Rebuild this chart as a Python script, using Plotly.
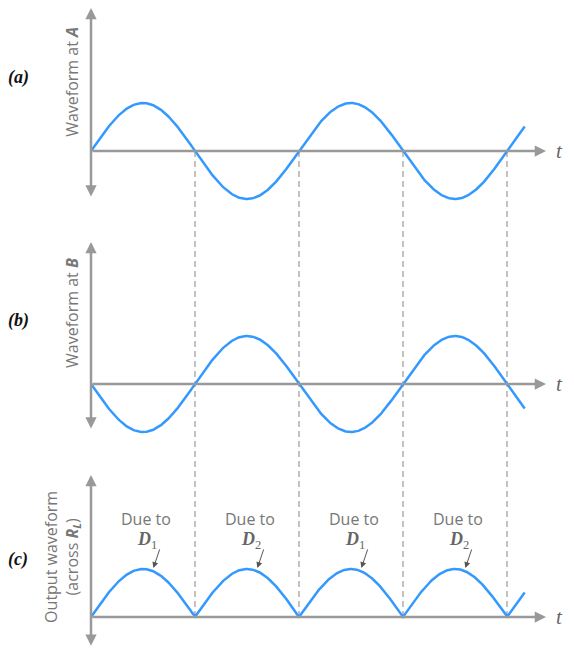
import numpy as np
import plotly.graph_objects as go

# time in half-periods of the input sine; the drawn trace stops a bit past the 4th crossing
T_END = 4.17
CROSSINGS = [1, 2, 3, 4]
PANEL_TAGS = ["(a)", "(b)", "(c)"]
PANEL_LABELS = [
    "Waveform at <i><b>A</b></i>",
    "Waveform at <i><b>B</b></i>",
    "Output waveform<br>(across <i><b>R</b></i><sub><i><b>L</b></i></sub>)",
]
DIODES = ["1", "2", "1", "2"]
HUMP_CENTERS = [0.5, 1.5, 2.5, 3.5]

BLUE = "#3399ff"
AXIS_GREY = "#999999"
DASH_GREY = "#b3b3b3"
TEXT_GREY = "#777777"
SERIF = "Liberation Serif"
SANS = "Open Sans"

# the page body adds an 8px margin, so the figure is shrunk to fit the window
PAGE_MARGIN = 8
W, H = 574 - 2 * PAGE_MARGIN, 654 - 2 * PAGE_MARGIN
X0_PX, HALF_PX, AMP_PX = 91 - PAGE_MARGIN, 104, 48

# panel layout in window pixels: (top, bottom, baseline)
PANELS_PX = [(0, 230, 151), (230, 460, 384), (460, 654, 617)]
ARROW_TOP = [2.98, 2.96, 2.96]
ARROW_BOTTOM = [-0.98, -0.96, -0.63]


def yrange(top, bottom, base):
    return [-(bottom - base) / AMP_PX, (base - top) / AMP_PX]


def domain(top, bottom):
    return [max(0.0, 1 - (bottom - PAGE_MARGIN) / H), min(1.0, 1 - (top - PAGE_MARGIN) / H)]


def panel_range(panel):
    top, bottom, base = PANELS_PX[panel]
    top = max(top, PAGE_MARGIN)
    bottom = min(bottom, PAGE_MARGIN + H)
    return yrange(top, bottom, base)


def to_paper(panel, value):
    base = PANELS_PX[panel][2]
    px = base - value * AMP_PX - PAGE_MARGIN
    return 1 - px / H


t = np.linspace(0, T_END, 600)
wave_a = np.sin(np.pi * t)
wave_b = -np.sin(np.pi * t)
wave_c = np.abs(np.sin(np.pi * t))
waves = [wave_a, wave_b, wave_c]
yrefs = ["y", "y2", "y3"]

fig = go.Figure()
for i, wave in enumerate(waves):
    fig.add_trace(
        go.Scatter(
            x=t,
            y=wave,
            mode="lines",
            line={"color": BLUE, "width": 2.5},
            xaxis="x",
            yaxis=yrefs[i],
            showlegend=False,
            hoverinfo="skip",
        )
    )

# dashed guide lines from the baseline of (a) down to the baseline of (c)
for c in CROSSINGS:
    fig.add_shape(
        type="line",
        xref="x",
        yref="paper",
        x0=c,
        x1=c,
        y0=to_paper(0, 0),
        y1=to_paper(2, 0),
        line={"color": DASH_GREY, "width": 1.6, "dash": "6px,4px"},
        layer="below",
    )

annotations = []
for i in range(3):
    yr = yrefs[i]
    # horizontal axis with arrow
    annotations.append(
        dict(
            x=4.375, y=0, ax=0, ay=0, xref="x", yref=yr, axref="x", ayref=yr,
            text="", showarrow=True, arrowhead=2, arrowsize=0.9,
            arrowwidth=2.5, arrowcolor=AXIS_GREY, standoff=0,
        )
    )
    # vertical double-headed axis
    annotations.append(
        dict(
            x=0, y=ARROW_TOP[i], ax=0, ay=ARROW_BOTTOM[i], xref="x", yref=yr,
            axref="x", ayref=yr, text="", showarrow=True, arrowhead=2,
            startarrowhead=2, arrowside="end+start", arrowsize=0.9,
            startarrowsize=0.9, arrowwidth=2.5, arrowcolor=AXIS_GREY,
            standoff=0, startstandoff=0,
        )
    )
    annotations.append(
        dict(
            x=4.5, y=0, xref="x", yref=yr, text="<i>t</i>", showarrow=False,
            font={"family": SERIF, "size": 21, "color": "#666666"},
        )
    )
    annotations.append(
        dict(
            x=-0.7, y=[1.54, 1.33, 1.19][i], xref="x", yref=yr,
            text="<b><i>" + PANEL_TAGS[i] + "</i></b>", showarrow=False,
            font={"family": SERIF, "size": 18, "color": "#111111"},
        )
    )
    annotations.append(
        dict(
            x=[-0.183, -0.183, -0.28][i], y=[1.44, 1.48, 1.25][i], xref="x",
            yref=yr, text=PANEL_LABELS[i], showarrow=False, textangle=-90,
            font={"family": SANS, "size": 16, "color": TEXT_GREY},
        )
    )

for center, diode in zip(HUMP_CENTERS, DIODES):
    annotations.append(
        dict(
            x=center + 0.03, y=2.04, xref="x", yref="y3", text="Due to",
            showarrow=False,
            font={"family": SANS, "size": 16, "color": TEXT_GREY},
        )
    )
    annotations.append(
        dict(
            x=center + 0.04, y=1.6, xref="x", yref="y3",
            text="<b><i>D</i></b><sub>" + diode + "</sub>",
            showarrow=False,
            font={"family": SERIF, "size": 18, "color": "#666666"},
        )
    )
    annotations.append(
        dict(
            x=center + 0.1, y=1.02, ax=center + 0.165, ay=1.44, xref="x",
            yref="y3", axref="x", ayref="y3", text="", showarrow=True,
            arrowhead=2, arrowsize=1.2, arrowwidth=1, arrowcolor="#555555",
            standoff=0,
        )
    )

hidden = {"visible": False, "fixedrange": True}
fig.update_layout(
    width=W,
    height=H,
    autosize=False,
    margin={"l": 0, "r": 0, "t": 0, "b": 0},
    paper_bgcolor="white",
    plot_bgcolor="white",
    showlegend=False,
    xaxis={**hidden, "range": [-X0_PX / HALF_PX, (W - X0_PX) / HALF_PX]},
    yaxis={**hidden, "range": panel_range(0), "domain": domain(*PANELS_PX[0][:2])},
    yaxis2={**hidden, "range": panel_range(1), "domain": domain(*PANELS_PX[1][:2])},
    yaxis3={**hidden, "range": panel_range(2), "domain": domain(*PANELS_PX[2][:2])},
    annotations=annotations,
)

fig.write_html("out.html")
